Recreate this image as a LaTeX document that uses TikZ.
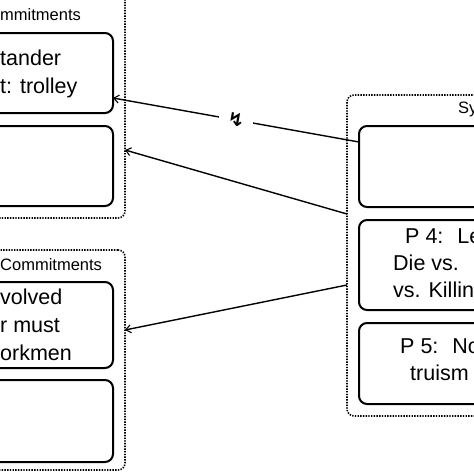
\documentclass[tikz,border=0pt]{standalone}
\usepackage{fontspec}
\setmainfont{Liberation Sans}
\newfontfamily\symfont{DejaVu Sans}
\usetikzlibrary{arrows.meta,calc}
\begin{document}
\begin{tikzpicture}[x=1pt,y=-1pt,
  outerbox/.style={draw, line width=1.6pt, dash pattern=on 1.4pt off 1.3pt, rounded corners=7pt, anchor=north west, inner sep=0pt, outer sep=0pt},
  innerbox/.style={draw, line width=2pt, rounded corners=8pt, anchor=north west, inner sep=0pt, outer sep=0pt},
  bodytext/.style={anchor=base west, inner sep=0pt, font=\fontsize{21.5}{27}\selectfont},
  titletext/.style={anchor=base west, inner sep=0pt, font=\fontsize{16.5}{20}\selectfont},
  arr/.style={line width=1.4pt, -{Straight Barb[length=5pt,width=8pt,line width=1.1pt]}}
]
\useasboundingbox (0,0) rectangle (474,474);
% left top group
\node[outerbox, minimum width=185pt, minimum height=228pt] (LA) at (-60,-10) {};
\node[innerbox, minimum width=163pt, minimum height=80pt] (L1) at (-50,33) {};
\node[innerbox, minimum width=163pt, minimum height=80pt] (L2) at (-50,126) {};
\node[titletext] (t1) at (0,20) {mmitments};
\node[bodytext] (t2) at (0,65) {tander};
\node[bodytext] (t3) at (0,93) {t: trolley};
% left bottom group
\node[outerbox, minimum width=185pt, minimum height=220pt] (LB) at (-60,250) {};
\node[innerbox, minimum width=163pt, minimum height=86pt] (L3) at (-50,282) {};
\node[innerbox, minimum width=163pt, minimum height=82pt] (L4) at (-50,380) {};
\node[titletext] (t4) at (0,270) {Commitments};
\node[bodytext] (t5) at (0,304) {volved};
\node[bodytext] (t6) at (0,332) {r must};
\node[bodytext] (t7) at (0,360) {orkmen};
% right group
\node[outerbox, minimum width=200pt, minimum height=321pt] (RA) at (347,95) {};
\node[innerbox, minimum width=170pt, minimum height=81pt] (R1) at (359,126) {};
\node[innerbox, minimum width=170pt, minimum height=90pt] (R2) at (359,220) {};
\node[innerbox, minimum width=170pt, minimum height=81pt] (R3) at (359,323) {};
\node[titletext] (t8) at (458,113) {Sy};
\node[bodytext] (t9) at (405,243) {P 4:~ Le};
\node[bodytext] (t10) at (393,270) {Die vs.};
\node[bodytext] (t11) at (393,297) {vs. Killin};
\node[bodytext] (t12) at (400,353) {P 5:~ No};
\node[bodytext] (t13) at (410,380) {truism};
% connectors
\draw[arr] (R1.west |- 0,142) -- node[fill=white, inner xsep=9pt, inner ysep=2pt, font=\symfont\bfseries\fontsize{19}{19}\selectfont] (zz) {↯} (L1.east |- 0,98);
\draw[arr] (RA.west |- 0,214) -- (LA.east |- 0,150);
\draw[arr] (RA.west |- 0,285) -- (LB.east |- 0,330);
\end{tikzpicture}
\end{document}
